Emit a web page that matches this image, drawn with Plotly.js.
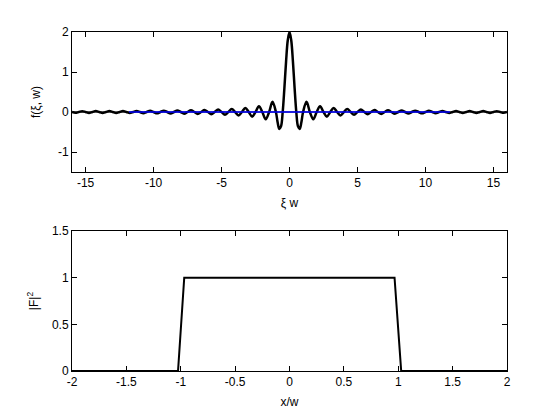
<!DOCTYPE html>
<html>
<head>
<meta charset="utf-8">
<script src="https://cdn.plot.ly/plotly-3.0.1.min.js"></script>
<style>html,body{margin:0;padding:0;background:#fff}</style>
</head>
<body>
<div id="chart" style="width:560px;height:420px"></div>
<script>
const xi = [-16,-15.75,-15.5,-15.25,-15,-14.75,-14.5,-14.25,-14,-13.75,-13.5,-13.25,-13,-12.75,-12.5,-12.25,-12,-11.75,-11.5,-11.25,-11,-10.75,-10.5,-10.25,-10,-9.75,-9.5,-9.25,-9,-8.75,-8.5,-8.25,-8,-7.75,-7.5,-7.25,-7,-6.75,-6.5,-6.25,-6,-5.75,-5.5,-5.25,-5,-4.75,-4.5,-4.25,-4,-3.75,-3.5,-3.25,-3,-2.75,-2.5,-2.25,-2,-1.75,-1.5,-1.25,-1,-0.875,-0.75,-0.625,-0.5,-0.375,-0.25,-0.125,
  0,
  0.125,0.25,0.375,0.5,0.625,0.75,0.875,1,1.25,1.5,1.75,2,2.25,2.5,2.75,3,3.25,3.5,3.75,4,4.25,4.5,4.75,5,5.25,5.5,5.75,6,6.25,6.5,6.75,7,7.25,7.5,7.75,8,8.25,8.5,8.75,9,9.25,9.5,9.75,10,10.25,10.5,10.75,11,11.25,11.5,11.75,12,12.25,12.5,12.75,13,13.25,13.5,13.75,14,14.25,14.5,14.75,15,15.25,15.5,15.75,16];
const fxi = [0,-0.020,0,0.021,0,-0.022,0,0.022,0,-0.023,0,0.024,0,-0.025,0,0.026,0,-0.027,0,0.028,0,-0.030,0,0.031,0,-0.033,0,0.034,0,-0.036,0,0.039,0,-0.041,0,0.044,0,-0.047,0,0.051,0,-0.055,0,0.061,0,-0.067,0,0.075,0,-0.085,0,0.098,0,-0.116,0,0.141,0,-0.182,0,0.255,0,-0.257,-0.424,-0.360,0,0.600,1.273,1.801,
  2,
  1.801,1.273,0.600,0,-0.360,-0.424,-0.257,0,0.255,0,-0.182,0,0.141,0,-0.116,0,0.098,0,-0.085,0,0.075,0,-0.067,0,0.061,0,-0.055,0,0.051,0,-0.047,0,0.044,0,-0.041,0,0.039,0,-0.036,0,0.034,0,-0.033,0,0.031,0,-0.030,0,0.028,0,-0.027,0,0.026,0,-0.025,0,0.024,0,-0.023,0,0.022,0,-0.022,0,0.021,0,-0.020,0];
const blueX = [-11.8, 11.8];
const blueY = [0, 0];
const zeroX = [-16, 16];
const zeroY = [0, 0];

// Bottom panel: |F|^2 vs x/w
const xw = [-2, -1.025, -0.968, 0.966, 1.027, 2];
const F2 = [0, 0, 1, 1, 0, 0];

// Tick labels
const topXTicks = [-15, -10, -5, 0, 5, 10, 15];
const topYTicks = [-1, 0, 1, 2];
const botXTicks = [-2, -1.5, -1, -0.5, 0, 0.5, 1, 1.5, 2];
const botYTicks = [0, 0.5, 1, 1.5];
const lbl = v => String(v);

const font = {family: 'Liberation Sans, Arial, sans-serif', size: 12, color: '#000'};
function ax(extra) {
  return Object.assign({
    showline: true, linecolor: '#000', linewidth: 1, mirror: 'ticks',
    ticks: 'inside', ticklen: 5, tickwidth: 1, tickcolor: '#000',
    showgrid: false, zeroline: false, tickfont: font, automargin: false,
    tickmode: 'array'
  }, extra);
}

const data = [
  {x: zeroX, y: zeroY, xaxis: 'x', yaxis: 'y', mode: 'lines', line: {color: '#000', width: 1}, hoverinfo: 'skip'},
  {x: xi, y: fxi, xaxis: 'x', yaxis: 'y', mode: 'lines', line: {color: '#000', width: 2.5, shape: 'spline', smoothing: 1}},
  {x: blueX, y: blueY, xaxis: 'x', yaxis: 'y', mode: 'lines', line: {color: '#0000ff', width: 1.5}},
  {x: xw, y: F2, xaxis: 'x2', yaxis: 'y2', mode: 'lines', line: {color: '#000', width: 2}}
];

const layout = {
  width: 560, height: 420,
  margin: {l: 72, r: 53, t: 32, b: 49},
  paper_bgcolor: '#fff', plot_bgcolor: '#fff',
  showlegend: false,
  font: font,
  xaxis: ax({domain: [0, 1], anchor: 'y', range: [-16, 16], tickvals: topXTicks, ticktext: topXTicks.map(lbl),
    title: {text: 'ξ w', font: font, standoff: 9}}),
  yaxis: ax({domain: [0.587, 1], anchor: 'x', range: [-1.5, 2], tickvals: topYTicks, ticktext: topYTicks.map(lbl),
    title: {text: 'f(ξ, w)', font: font, standoff: 14}}),
  xaxis2: ax({domain: [0, 1], anchor: 'y2', range: [-2, 2], tickvals: botXTicks, ticktext: botXTicks.map(lbl),
    title: {text: 'x/w', font: font, standoff: 9}}),
  yaxis2: ax({domain: [0, 0.413], anchor: 'x2', range: [0, 1.5], tickvals: botYTicks, ticktext: botYTicks.map(lbl),
    title: {text: '|F|<sup>2</sup>', font: font, standoff: 10}})
};

Plotly.newPlot('chart', data, layout, {displayModeBar: false, staticPlot: true});
</script>
</body>
</html>
